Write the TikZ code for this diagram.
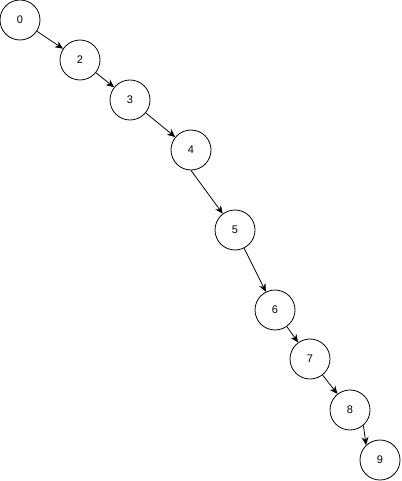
\documentclass[tikz,border=0pt]{standalone}
\usepackage{fontspec}
\setmainfont{Liberation Sans}
\usetikzlibrary{arrows.meta}
\begin{document}
\begin{tikzpicture}[x=1pt,y=-1pt,
    every node/.style={draw,circle,minimum size=40pt,inner sep=0pt,line width=0.8pt,font=\fontsize{11}{13}\selectfont}]
      \useasboundingbox (0,0) rectangle (401,481);
      \path
        (20,20) node (0){0}
        (80,60) node (2){2}
        (130,100) node (3){3}
        (191,150) node (4){4}
        (235,230) node (5){5}
        (275,310) node (6){6}
        (310,359) node (7){7}
        (350,410) node (8){8}
        (380,460) node (9){9};
      \begin{scope}[-{Stealth[length=8pt,width=7pt]},line width=0.8pt]
        \draw (0) to (2);
        \draw (2) to (3);
        \draw (3) to (4);
        \draw (4.south) to (5.127);
        \draw (5) to (6);
        \draw (6) to (7);
        \draw (7) to (8);
        \draw (8.-49) to (9.133);
      \end{scope}
    \end{tikzpicture}
\end{document}
